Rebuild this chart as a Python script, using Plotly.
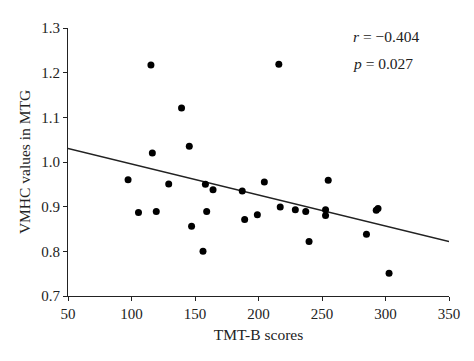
import plotly.graph_objects as go

tmt_b = [115.3, 139.4, 145.5, 116.4, 216.0, 97.3, 105.5, 119.5, 129.3, 147.3,
         156.3, 158.2, 159.2, 164.2, 187.2, 189.1, 199.1, 204.6, 254.9, 217.1,
         229.0, 237.2, 239.8, 252.8, 252.8, 285.0, 292.7, 294.1, 302.8]
vmhc = [1.217, 1.121, 1.035, 1.020, 1.219, 0.960, 0.887, 0.889, 0.951, 0.856,
        0.800, 0.950, 0.889, 0.938, 0.935, 0.871, 0.882, 0.955, 0.959, 0.899,
        0.893, 0.889, 0.822, 0.893, 0.880, 0.838, 0.892, 0.896, 0.751]

fit_x = [50, 350]
fit_y = [1.030, 0.822]

x_ticks = [50, 100, 150, 200, 250, 300, 350]
y_ticks = [0.7, 0.8, 0.9, 1.0, 1.1, 1.2, 1.3]

serif = "Liberation Serif, Times New Roman, serif"

fig = go.Figure()
fig.add_trace(go.Scatter(x=fit_x, y=fit_y, mode="lines",
                         line=dict(color="#222222", width=1.5), showlegend=False))
fig.add_trace(go.Scatter(x=tmt_b, y=vmhc, mode="markers",
                         marker=dict(color="black", size=7), showlegend=False))

fig.add_annotation(x=273, y=1.281, xref="x", yref="y", xanchor="left",
                   text="<i>r</i> = \u22120.404", showarrow=False,
                   font=dict(family=serif, size=15.5, color="#222222"))
fig.add_annotation(x=273, y=1.22, xref="x", yref="y", xanchor="left",
                   text="<i>p</i> = 0.027", showarrow=False,
                   font=dict(family=serif, size=15.5, color="#222222"))

axis_common = dict(showgrid=False, zeroline=False, showline=True, linecolor="#222222",
                   linewidth=1, ticks="outside", ticklen=4, tickcolor="#222222",
                   tickfont=dict(family=serif, size=15, color="#222222"))

fig.update_xaxes(range=[50, 350], tickvals=x_ticks,
                 title=dict(text="TMT-B scores", font=dict(family=serif, size=15.5, color="#222222"), standoff=8),
                 **axis_common)
fig.update_yaxes(range=[0.7, 1.3], tickvals=y_ticks, tickformat=".1f",
                 title=dict(text="VMHC values in MTG", font=dict(family=serif, size=15.5, color="#222222"), standoff=6),
                 **axis_common)

fig.update_layout(width=474, height=361, plot_bgcolor="white", paper_bgcolor="white",
                  margin=dict(l=60, r=33, t=16, b=73))

fig.write_html("out.html")
